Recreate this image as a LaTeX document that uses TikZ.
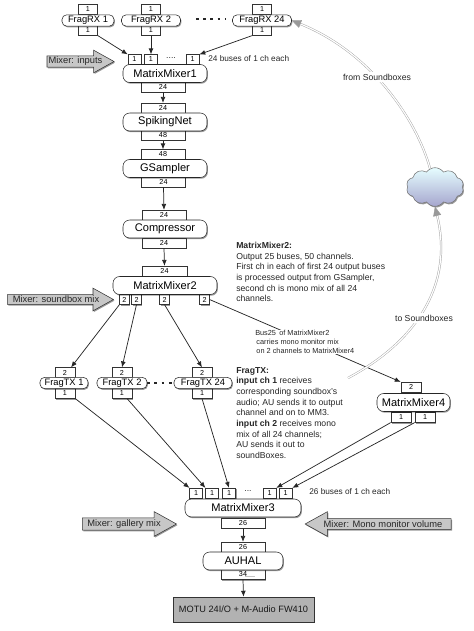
\documentclass[tikz,border=0pt]{standalone}
\usepackage{fontspec}
\setmainfont{Liberation Sans}
\usetikzlibrary{arrows.meta,shapes.arrows,shapes.symbols,shadows}
\tikzset{
  soft/.style={drop shadow={shadow xshift=0.7pt,shadow yshift=-0.9pt,fill=black,opacity=0.4}},
  mixbox/.style={draw=black!85,fill=white,rounded corners=5pt,soft,inner sep=0pt,font=\fontsize{8.3}{9}\selectfont,minimum width=#1*0.75pt,minimum height=13.5pt},
  fragbox/.style={draw=black!85,fill=white,rounded corners=3.5pt,soft,inner sep=0pt,font=\fontsize{7}{8}\selectfont,minimum width=#1*0.75pt,minimum height=8.5pt},
  tab/.style={draw=black!80,fill=white,soft,inner sep=0pt,font=\fontsize{5.4}{6}\selectfont,minimum width=#1*0.75pt,minimum height=7.2pt},
  note/.style={inner sep=0pt,text=black!85,font=\fontsize{6.5}{8}\selectfont},
  lead/.style={-{Latex[length=4.5pt,width=3.6pt]},line width=0.55pt,black!85},
  link/.style={-{Triangle[length=7pt,width=6pt,fill=black!40,color=black!40]},draw=black!35,double=white,double distance=0.9pt,line width=0.35pt},
  mixarrow/.style={single arrow,draw=black!80,fill=black!22,soft,inner sep=0pt,text=black!85,font=\fontsize{7}{8}\selectfont,single arrow head extend=3.6pt,single arrow head indent=0pt,single arrow tip angle=58,minimum height=#1*0.75pt,minimum width=17pt},
  dotline/.style={line width=0.8pt,black!85,dash pattern=on 2pt off 3.4pt}
}
\begin{document}
\begin{tikzpicture}[x=0.75pt,y=-0.75pt]
    \useasboundingbox (0,0) rectangle (474,631);

    % FragRX row
    \foreach \name/\xc/\wid/\txt in {rx1/88/52/FragRX 1,rx2/151/59/FragRX 2,rx24/262/59/FragRX 24} {
        \node[tab=19] (\name top) at (\xc,9.5) {1};
        \node[tab=19] (\name bot) at (\xc,30.5) {1};
        \node[fragbox=\wid] (\name) at (\xc,20.5) {\txt};
    }
    \coordinate (rxdotsA) at (196,19);
    \coordinate (rxdotsB) at (226,19);
    \draw[dotline] (rxdotsA) -- (rxdotsB);

    % MatrixMixer1
    \node[tab=13] (mm1a) at (134.5,59.5) {1};
    \node[tab=13] (mm1b) at (151,59.5) {1};
    \node[tab=13] (mm1c) at (192.5,59.5) {1};
    \node[note] (mm1dots) at (171,58) {....};
    \node[tab=44] (mm1bot) at (163,87) {24};
    \node[mixbox=84] (mm1) at (165,73.5) {MatrixMixer1};
    \node[note,font=\fontsize{6.2}{8}\selectfont,anchor=west] (mm1note) at (208,59) {24 buses of 1 ch each};
    \node[mixarrow=67] (mixinputs) at (75.5,61.5) {Mixer: inputs};

    % SpikingNet, GSampler, Compressor
    \node[tab=44] (sntop) at (163,108) {24};
    \node[tab=44] (snbot) at (163,135.5) {48};
    \node[mixbox=84] (sn) at (165,122) {SpikingNet};
    \node[tab=44] (gstop) at (163,154.5) {48};
    \node[tab=44] (gsbot) at (163.5,182) {24};
    \node[mixbox=84] (gs) at (165,168.5) {GSampler};
    \node[tab=44] (cptop) at (164,215) {24};
    \node[tab=44] (cpbot) at (164,243) {24};
    \node[mixbox=84] (cp) at (165,229) {Compressor};

    % MatrixMixer2
    \node[tab=45] (mm2top) at (164.5,271) {24};
    \node[tab=9.5] (mm2a) at (124.5,299.5) {2};
    \node[tab=9.5] (mm2b) at (136.5,299.5) {2};
    \node[tab=9.5] (mm2c) at (164.5,299.5) {2};
    \node[tab=9.5] (mm2d) at (204.5,299.5) {2};
    \node[mixbox=104] (mm2) at (165,285.5) {MatrixMixer2};
    \node[mixarrow=106] (mixsound) at (56,299.5) {Mixer: soundbox mix};

    % FragTX row
    \foreach \name/\xc/\xb/\wid/\txt in {tx1/65/64/48/FragTX 1,tx2/122/122/50/FragTX 2,tx24/202/203/58/FragTX 24} {
        \node[tab=20] (\name top) at (\xc,372.5) {2};
        \node[tab=20] (\name bot) at (\xc,393.5) {1};
        \node[fragbox=\wid] (\name) at (\xb,383) {\txt};
    }
    \draw[dotline] (tx2.east) -- (tx24.west);

    % MatrixMixer4
    \node[tab=20] (mm4top) at (411,387) {2};
    \node[tab=20] (mm4a) at (401,417.5) {1};
    \node[tab=20] (mm4b) at (425,417.5) {1};
    \node[mixbox=73] (mm4) at (413.5,402.5) {MatrixMixer4};

    % MatrixMixer3
    \node[tab=12.5] (mm3a) at (196,493) {1};
    \node[tab=12.5] (mm3b) at (212,493) {1};
    \node[tab=13.5] (mm3c) at (229,493) {1};
    \node[tab=13] (mm3d) at (269.5,493) {1};
    \node[tab=13] (mm3e) at (285.5,493) {1};
    \node[note] (mm3dots) at (248,491) {...};
    \node[tab=44] (mm3bot) at (243,523) {26};
    \node[mixbox=116] (mm3) at (243,508) {MatrixMixer3};
    \node[note,font=\fontsize{6.2}{8}\selectfont,anchor=west] (mm3note) at (309,492) {26 buses of 1 ch each};
    \node[mixarrow=94,minimum width=18.5pt] (mixgallery) at (124,524) {Mixer: gallery mix};
    \node[mixarrow=146,minimum width=18.5pt,shape border rotate=180] (mixmono) at (383,524) {Mixer: Mono monitor volume};

    % AUHAL and the interface
    \node[tab=44] (autop) at (243,547) {26};
    \node[tab=44] (aubot) at (243,574.5) {34};
    \node[mixbox=80] (au) at (243,561) {AUHAL};
    \node[note,font=\fontsize{5.4}{6}\selectfont] (audots) at (250,577) {.....};
    \node[draw=black!80,fill=black!30,soft,inner sep=0pt,text=black!90,font=\fontsize{6.9}{8}\selectfont,minimum width=105.5pt,minimum height=18.7pt] (motu) at (243.5,609.5) {MOTU 24I/O + M-Audio FW410};

    % Cloud
    \node[cloud,cloud puffs=10,cloud puff arc=110,aspect=1.4,draw=black!55,soft,top color=blue!8!cyan!10!white,bottom color=blue!45!black!35!white,inner sep=0pt,minimum width=43pt,minimum height=29pt] (cloud) at (435,187) {};

    % Signal chain
    \draw[lead] (rx1bot.south east) -- (mm1a.north west);
    \draw[lead] (rx2bot.south) -- (mm1b.north);
    \draw[lead] (rx24bot.south west) -- (mm1c.north east);
    \draw[lead] (mm1bot.south) -- (sntop.north);
    \draw[lead] (snbot.south) -- (gstop.north);
    \draw[lead] (gsbot.south) -- (cptop.north);
    \draw[lead] (cpbot.south) -- (mm2top.north);
    \draw[lead] (mm2a.south west) -- (tx1top.40);
    \draw[lead] (mm2b.south) -- (tx2top.north);
    \draw[lead] (mm2c.south) -- (tx24top.north);
    \draw[lead] (mm2d.east) -- (mm4top.north west);
    \draw[lead] (tx1bot.south east) -- (mm3a.north west);
    \draw[lead] (tx2bot.-45) -- (mm3b.north west);
    \draw[lead] (tx24bot.south) -- (mm3c.north);
    \draw[lead] (mm4a.south west) -- (mm3d.north east);
    \draw[lead] (mm4b.south west) -- (mm3e.north east);
    \draw[lead] (mm3bot.south) -- (autop.north);
    \draw[lead] (aubot.south) -- (motu.north);

    % Soundbox links
    \coordinate (monoout) at (348,378);
    \draw[link] (cloud.105) .. controls (416,118) and (370,52) .. (rx24.east);
    \draw[link] (monoout) .. controls (410,345) and (455,290) .. (cloud.south);
    \node[note,fill=white,inner ysep=1pt] (fromlabel) at (377,77) {from Soundboxes};
    \node[note,fill=white,inner ysep=1pt] (tolabel) at (424,318) {to Soundboxes};

    % Notes
    \node[note,fill=white,font=\fontsize{5.5}{6.7}\selectfont,align=left,anchor=north west] (busnote) at (255,330) {Bus25\, of MatrixMixer2\\[0pt]\,carries mono monitor mix\\\,on 2 channels to MatrixMixer4};
    \node[note,align=left,anchor=north west] (mm2note) at (236,242) {\textbf{MatrixMixer2:}\\Output 25 buses, 50 channels.\\First ch in each of first 24 output buses\\is processed output from GSampler,\\second ch is mono mix of all 24\\channels.};
    \node[note,align=left,anchor=north west] (txnote) at (236,367) {\textbf{FragTX:}\\\textbf{input ch 1} receives\\corresponding soundbox's\\audio; AU sends it to output\\channel and on to MM3.\\\textbf{input ch 2} receives mono\\mix of all 24 channels;\\AU sends it out to\\soundBoxes.};
\end{tikzpicture}
\end{document}
